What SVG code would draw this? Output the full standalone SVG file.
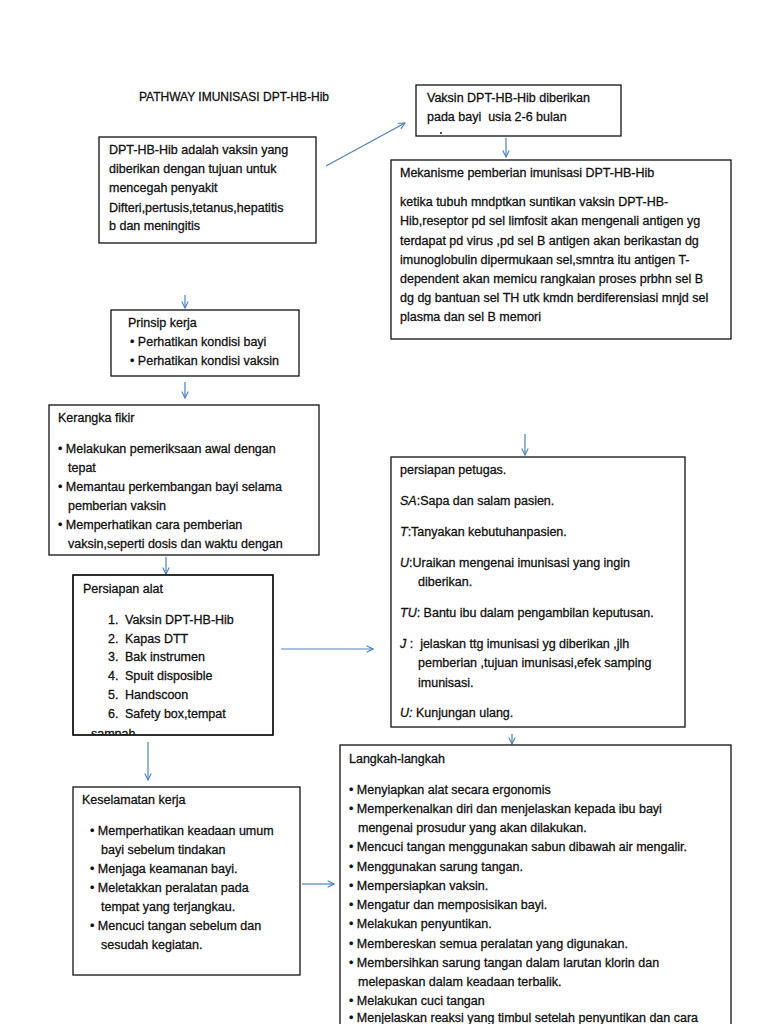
<svg xmlns="http://www.w3.org/2000/svg" width="768" height="1024" viewBox="0 0 768 1024">
<style>
text{font-family:"Liberation Sans",Arial,sans-serif;font-size:12.5px;fill:#111;stroke:#111;stroke-width:0.3}
.box{fill:#fff;stroke:#111;stroke-width:1.3}
.con{stroke:#4f81bd;stroke-width:1.2;fill:none;marker-end:url(#ah)}
.i{font-style:italic}
</style>
<defs>
<marker id="ah" viewBox="0 0 10 10" refX="9" refY="5" markerWidth="8" markerHeight="8" markerUnits="userSpaceOnUse" orient="auto">
<path d="M1,1 L9,5 L1,9" fill="none" stroke="#4f81bd" stroke-width="1.4"/>
</marker>
<clipPath id="cpAlat"><rect x="73" y="575" width="200" height="160"/></clipPath>
</defs>
<rect width="768" height="1024" fill="#fff"/>
<text id="title" x="139" y="101" style="font-size:12px">PATHWAY IMUNISASI DPT-HB-Hib</text>

<g id="connectors">
<line class="con" x1="326" y1="166" x2="405" y2="123"/>
<line class="con" x1="506" y1="138" x2="506" y2="157"/>
<line class="con" x1="185" y1="295" x2="185" y2="308"/>
<line class="con" x1="185" y1="382" x2="185" y2="398"/>
<line class="con" x1="166" y1="557" x2="166" y2="574"/>
<line class="con" x1="281" y1="649" x2="373" y2="649"/>
<line class="con" x1="525" y1="434" x2="525" y2="455"/>
<line class="con" x1="512" y1="734" x2="512" y2="744"/>
<line class="con" x1="148" y1="742" x2="148" y2="780"/>
<line class="con" x1="302" y1="884" x2="334" y2="884"/>
</g>

<g id="n-definisi">
<rect class="box" x="99" y="137" width="217" height="106"/>
<text x="109" y="154">DPT-HB-Hib adalah vaksin yang</text>
<text x="109" y="173">diberikan dengan tujuan untuk</text>
<text x="109" y="192">mencegah penyakit</text>
<text x="109" y="212">Difteri,pertusis,tetanus,hepatitis</text>
<text x="109" y="230">b dan meningitis</text>
</g>

<g id="n-usia">
<rect class="box" x="416" y="85" width="205" height="51"/>
<text x="427" y="102">Vaksin DPT-HB-Hib diberikan</text>
<text x="427" y="121" xml:space="preserve">pada bayi  usia 2-6 bulan</text>
<circle cx="441" cy="133" r="1" fill="#111"/>
</g>

<g id="n-mekanisme">
<rect class="box" x="391" y="160" width="340" height="179"/>
<text x="400" y="177">Mekanisme pemberian imunisasi DPT-HB-Hib</text>
<text x="400" y="206">ketika tubuh mndptkan suntikan vaksin DPT-HB-</text>
<text x="400" y="225">Hib,reseptor pd sel limfosit akan mengenali antigen yg</text>
<text x="400" y="245">terdapat pd virus ,pd sel B antigen akan berikastan dg</text>
<text x="400" y="264">imunoglobulin dipermukaan sel,smntra itu antigen T-</text>
<text x="400" y="283">dependent akan memicu rangkaian proses prbhn sel B</text>
<text x="400" y="302">dg dg bantuan sel TH utk kmdn berdiferensiasi mnjd sel</text>
<text x="400" y="321">plasma dan sel B memori</text>
</g>

<g id="n-prinsip">
<rect class="box" x="111" y="310" width="188" height="66"/>
<text x="128" y="327">Prinsip kerja</text>
<text x="130" y="346">• Perhatikan kondisi bayi</text>
<text x="130" y="365">• Perhatikan kondisi vaksin</text>
</g>

<g id="n-kerangka">
<rect class="box" x="49" y="405" width="270" height="150"/>
<text x="58" y="422">Kerangka fikir</text>
<text x="58" y="453">• Melakukan pemeriksaan awal dengan</text>
<text x="68" y="472">tepat</text>
<text x="58" y="491">• Memantau perkembangan bayi selama</text>
<text x="68" y="510">pemberian vaksin</text>
<text x="58" y="529">• Memperhatikan cara pemberian</text>
<text x="68" y="548">vaksin,seperti dosis dan waktu dengan</text>
</g>

<g id="n-alat">
<rect class="box" x="73" y="575" width="200" height="160"/>
<g clip-path="url(#cpAlat)">
<text x="83" y="593">Persiapan alat</text>
<text x="108" y="624">1.</text><text x="125" y="624">Vaksin DPT-HB-Hib</text>
<text x="108" y="643">2.</text><text x="125" y="643">Kapas DTT</text>
<text x="108" y="661">3.</text><text x="125" y="661">Bak instrumen</text>
<text x="108" y="680">4.</text><text x="125" y="680">Spuit disposible</text>
<text x="108" y="699">5.</text><text x="125" y="699">Handscoon</text>
<text x="108" y="718">6.</text><text x="125" y="718">Safety box,tempat</text>
<text x="91" y="738">sampah</text>
</g>
<rect x="73" y="575" width="200" height="160" fill="none" stroke="#111" stroke-width="1.3"/>
</g>

<g id="n-petugas">
<rect class="box" x="391" y="457" width="294" height="270"/>
<text x="400" y="474">persiapan petugas.</text>
<text x="400" y="505"><tspan class="i">SA</tspan>:Sapa dan salam pasien.</text>
<text x="400" y="536"><tspan class="i">T</tspan>:Tanyakan kebutuhanpasien.</text>
<text x="400" y="567"><tspan class="i">U</tspan>:Uraikan mengenai imunisasi yang ingin</text>
<text x="418" y="586">diberikan.</text>
<text x="400" y="617"><tspan class="i">TU</tspan>: Bantu ibu dalam pengambilan keputusan.</text>
<text x="400" y="648" xml:space="preserve"><tspan class="i">J</tspan> :  jelaskan ttg imunisasi yg diberikan ,jlh</text>
<text x="418" y="667">pemberian ,tujuan imunisasi,efek samping</text>
<text x="418" y="687">imunisasi.</text>
<text x="400" y="717"><tspan class="i">U:</tspan> Kunjungan ulang.</text>
</g>

<g id="n-keselamatan">
<rect class="box" x="73" y="787" width="227" height="188"/>
<text x="82" y="804">Keselamatan kerja</text>
<text x="90" y="835">• Memperhatikan keadaan umum</text>
<text x="101" y="854">bayi sebelum tindakan</text>
<text x="90" y="873">• Menjaga keamanan bayi.</text>
<text x="90" y="892">• Meletakkan peralatan pada</text>
<text x="101" y="911">tempat yang terjangkau.</text>
<text x="90" y="930">• Mencuci tangan sebelum dan</text>
<text x="101" y="949">sesudah kegiatan.</text>
</g>

<g id="n-langkah">
<rect class="box" x="340" y="745" width="391" height="290"/>
<text x="349" y="763">Langkah-langkah</text>
<text x="349" y="794">• Menyiapkan alat secara ergonomis</text>
<text x="349" y="813">• Memperkenalkan diri dan menjelaskan kepada ibu bayi</text>
<text x="358" y="832">mengenai prosudur yang akan dilakukan.</text>
<text x="349" y="851">• Mencuci tangan menggunakan sabun dibawah air mengalir.</text>
<text x="349" y="871">• Menggunakan sarung tangan.</text>
<text x="349" y="890">• Mempersiapkan vaksin.</text>
<text x="349" y="909">• Mengatur dan memposisikan bayi.</text>
<text x="349" y="928">• Melakukan penyuntikan.</text>
<text x="349" y="948">• Membereskan semua peralatan yang digunakan.</text>
<text x="349" y="967">• Membersihkan sarung tangan dalam larutan klorin dan</text>
<text x="358" y="986">melepaskan dalam keadaan terbalik.</text>
<text x="349" y="1005">• Melakukan cuci tangan</text>
<text x="349" y="1022">• Menjelaskan reaksi yang timbul setelah penyuntikan dan cara</text>
</g>
</svg>
